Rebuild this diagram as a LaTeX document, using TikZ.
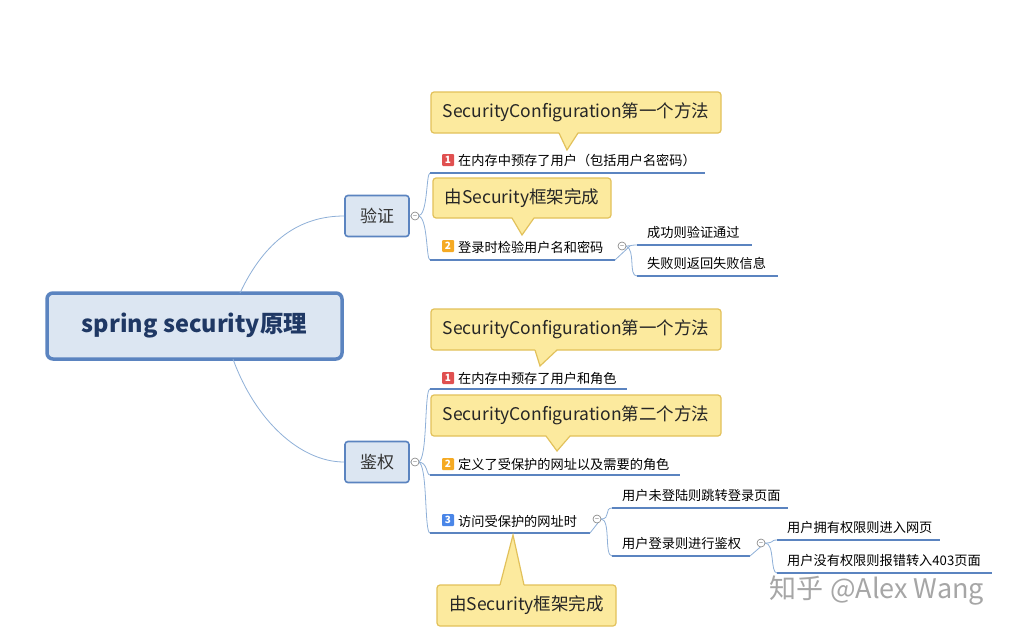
\documentclass[tikz,border=0pt]{standalone}
\usepackage{fontspec}
\setmainfont{Noto Sans CJK SC}
\definecolor{bfill}{HTML}{DCE6F2}
\definecolor{bline}{HTML}{5B84C0}
\definecolor{cfill}{HTML}{FCEA9E}
\definecolor{cline}{HTML}{E2C15A}
\definecolor{uline}{HTML}{5B84C0}
\definecolor{conn}{HTML}{8FB0D8}
\begin{document}
\begin{tikzpicture}[x=1pt,y=-1pt,
  topic/.style={draw=bline,fill=bfill,line width=1.6pt,rounded corners=3pt,minimum width=64pt,minimum height=41pt,font=\fontsize{17}{20}\selectfont,text=black!80},
  item/.style={anchor=south west,inner sep=2pt,font=\fontsize{13.2}{15}\selectfont},
  ul/.style={draw=uline,line width=2pt},
  cn/.style={draw=conn,line width=0.8pt},
  col/.style={circle,draw=gray,fill=white,inner sep=0pt,minimum size=8pt,line width=0.6pt},
  callbox/.style={draw=cline,fill=cfill,line width=1.2pt,rounded corners=3pt,font=\fontsize{17.5}{20}\selectfont,text=black!85},
  badge/.style={rounded corners=1pt,text=white,font=\bfseries\fontsize{10}{10}\selectfont,inner sep=0pt,minimum size=12pt}]
\useasboundingbox (0,0) rectangle (1027,637);
\fill[white] (0,0) rectangle (1027,637);
\node[draw=bline,fill=bfill,line width=3.5pt,rounded corners=6pt,minimum width=295pt,minimum height=66pt,font=\bfseries\fontsize{23.5}{26}\selectfont,text={rgb,255:red,31;green,56;blue,100}] (root) at (194.5,326) {spring security原理};
\node[topic] (yz) at (377,216) {验证};
\node[topic] (jq) at (377,462) {鉴权};
\draw[cn] (240,293) .. controls (265,240) and (300,216) .. (yz.west);
\draw[cn] (233,359) .. controls (255,420) and (300,462) .. (jq.west);
% 验证 branches
\coordinate (a1s) at (430,173); \coordinate (a1e) at (705,173);
\coordinate (a2s) at (430,260); \coordinate (a2e) at (615,260);
\draw[cn] (yz.east) -- (418,216) .. controls (428,216) and (426,173) .. (a1s);
\draw[cn] (418,216) .. controls (428,216) and (426,260) .. (a2s);
\draw[ul] (a1s) -- (a1e); \draw[ul] (a2s) -- (a2e);
\node[col] (c1) at (415,216) {\tiny$-$};
\node[badge,fill={rgb,255:red,224;green,80;blue,80}] (b1) at (448,160) {1};
\node[item] (t1) at (456,169) {在内存中预存了用户（包括用户名密码）};
\node[badge,fill={rgb,255:red,245;green,170;blue,35}] (b2) at (448,246) {2};
\node[item] (t2) at (456,256) {登录时检验用户名和密码};
\coordinate (s1s) at (637,245); \coordinate (s1e) at (752,245);
\coordinate (s2s) at (637,276); \coordinate (s2e) at (778,276);
\draw[cn] (a2e) -- (630,246);
\draw[cn] (626,246) .. controls (632,246) and (630,245) .. (s1s);
\draw[cn] (626,246) .. controls (636,250) and (628,276) .. (s2s);
\draw[ul] (s1s) -- (s1e); \draw[ul] (s2s) -- (s2e);
\node[col] (c2) at (622,246) {\tiny$-$};
\node[item] (t3) at (645,241) {成功则验证通过};
\node[item] (t4) at (645,272) {失败则返回失败信息};
% 鉴权 branches
\coordinate (j1s) at (430,389); \coordinate (j1e) at (627,389);
\coordinate (j2s) at (430,475); \coordinate (j2e) at (680,475);
\coordinate (j3s) at (430,533); \coordinate (j3e) at (590,533);
\draw[cn] (jq.east) -- (418,462) .. controls (428,462) and (424,389) .. (j1s);
\draw[cn] (418,462) .. controls (428,462) and (426,475) .. (j2s);
\draw[cn] (418,462) .. controls (428,462) and (424,533) .. (j3s);
\draw[ul] (j1s) -- (j1e); \draw[ul] (j2s) -- (j2e); \draw[ul] (j3s) -- (j3e);
\node[col] (c3) at (415,462) {\tiny$-$};
\node[badge,fill={rgb,255:red,224;green,80;blue,80}] (b3) at (448,378) {1};
\node[item] (u1) at (456,387) {在内存中预存了用户和角色};
\node[badge,fill={rgb,255:red,245;green,170;blue,35}] (b4) at (448,464) {2};
\node[item] (u2) at (456,473) {定义了受保护的网址以及需要的角色};
\node[badge,fill={rgb,255:red,74;green,134;blue,232}] (b5) at (448,520) {3};
\node[item] (u3) at (456,530) {访问受保护的网址时};
\coordinate (k1s) at (612,508); \coordinate (k1e) at (788,508);
\coordinate (k2s) at (612,556); \coordinate (k2e) at (750,556);
\draw[cn] (j3e) -- (601,519) .. controls (611,519) and (604,508) .. (k1s);
\draw[cn] (601,519) .. controls (611,519) and (604,556) .. (k2s);
\draw[ul] (k1s) -- (k1e); \draw[ul] (k2s) -- (k2e);
\node[col] (c4) at (597,519) {\tiny$-$};
\node[item] (u4) at (620,504) {用户未登陆则跳转登录页面};
\node[item] (u5) at (620,552) {用户登录则进行鉴权};
\coordinate (m1s) at (777,540); \coordinate (m1e) at (940,540);
\coordinate (m2s) at (777,573); \coordinate (m2e) at (992,573);
\draw[cn] (k2e) -- (765,543) .. controls (775,543) and (770,540) .. (m1s);
\draw[cn] (765,543) .. controls (775,543) and (770,573) .. (m2s);
\draw[ul] (m1s) -- (m1e); \draw[ul] (m2s) -- (m2e);
\node[col] (c5) at (761,543) {\tiny$-$};
\node[item] (u6) at (785,536) {用户拥有权限则进入网页};
\node[item] (u7) at (785,569) {用户没有权限则报错转入403页面};
% callouts
\node[callbox,minimum width=290pt,minimum height=41pt] (k1) at (576,112.5) {SecurityConfiguration第一个方法};
\fill[cfill] (559,132) -- (567,150) -- (578,132) -- cycle;
\draw[cline,line width=1.2pt] (559,133) -- (567,150) -- (578,133);
\node[callbox,minimum width=178pt,minimum height=40pt] (k2) at (522,198) {由Security框架完成};
\fill[cfill] (512,217) -- (522,235) -- (534,217) -- cycle;
\draw[cline,line width=1.2pt] (512,218) -- (522,235) -- (534,218);
\node[callbox,minimum width=290pt,minimum height=41pt] (k3) at (576,329.5) {SecurityConfiguration第一个方法};
\fill[cfill] (535,349) -- (540,366) -- (557,349) -- cycle;
\draw[cline,line width=1.2pt] (535,350) -- (540,366) -- (557,350);
\node[callbox,minimum width=290pt,minimum height=41pt] (k4) at (576,415.5) {SecurityConfiguration第二个方法};
\fill[cfill] (546,435) -- (557,451) -- (570,435) -- cycle;
\draw[cline,line width=1.2pt] (546,436) -- (557,451) -- (570,436);
\node[callbox,minimum width=179pt,minimum height=41pt] (k5) at (526.5,605.5) {由Security框架完成};
\fill[cfill] (500,586) -- (513,535) -- (524,586) -- cycle;
\draw[cline,line width=1.2pt] (500,585) -- (513,535) -- (524,585);
\node[text=black!35,font=\fontsize{27}{30}\selectfont] (wm) at (877,591) {知乎 @Alex Wang};
\end{tikzpicture}
\end{document}
